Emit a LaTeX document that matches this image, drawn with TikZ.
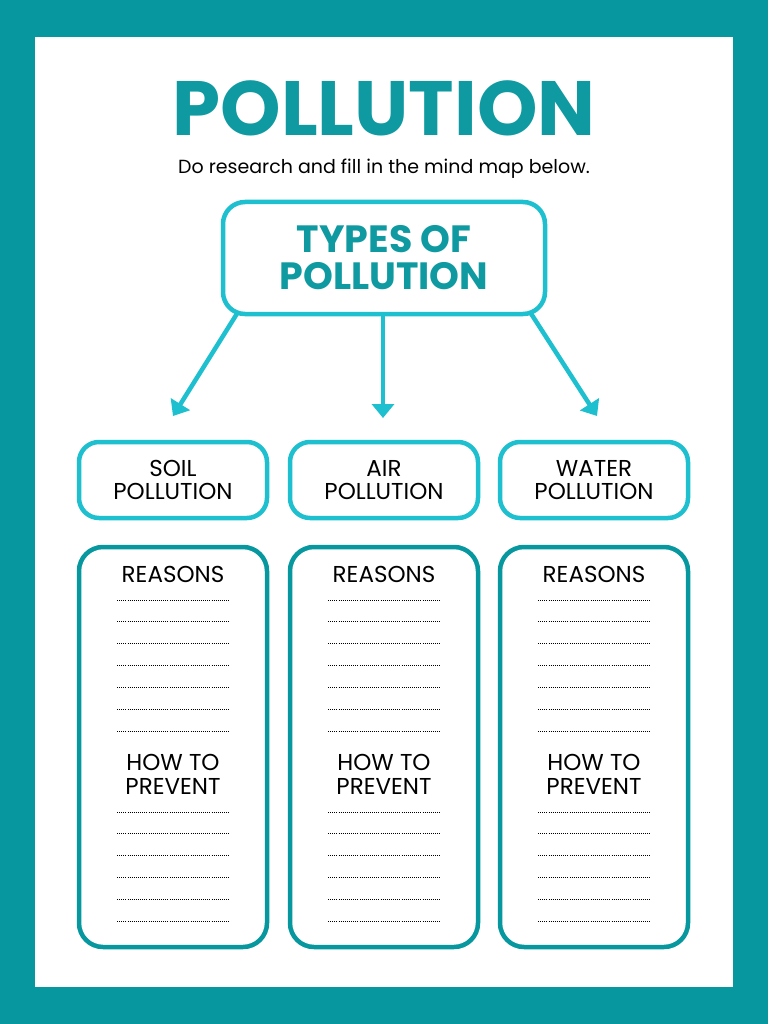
\documentclass[tikz,border=0pt]{standalone}
\usepackage{fontspec}
\setmainfont{Poppins}
\usetikzlibrary{arrows.meta}
\definecolor{teal1}{HTML}{07979F}
\definecolor{cyan1}{HTML}{1EBFCE}
\definecolor{tealtxt}{HTML}{0E9AA0}
\tikzset{
 x=1pt,y=-1pt,
 topbox/.style={draw=cyan1,line width=4.5pt,rounded corners=22pt,minimum width=322pt,minimum height=112pt,align=center,text=tealtxt,font=\fontsize{38}{37}\selectfont\bfseries},
 midbox/.style={draw=cyan1,line width=4.5pt,rounded corners=20pt,minimum width=188pt,minimum height=76pt,align=center,font=\fontsize{23}{23}\selectfont},
 lowbox/.style={draw=teal1,line width=4.5pt,rounded corners=24pt,minimum width=188pt,minimum height=400pt},
 lbl/.style={align=center,font=\fontsize{23}{24}\selectfont},
 arr/.style={draw=cyan1,line width=4.5pt,-{Triangle[length=14pt,width=22pt]}},
 dots/.style={line width=0.9pt,dash pattern=on 0.9pt off 1.2pt}
}
\begin{document}
\begin{tikzpicture}
\fill[teal1] (0,0) rectangle (768,1024);
\fill[white] (35,37) rectangle (733,987);
\useasboundingbox (0,0) rectangle (768,1024);
\node[text=tealtxt,font=\fontsize{77}{77}\selectfont\bfseries] (title) at (384,108) {POLLUTION};
\node[font=\fontsize{19}{20}\selectfont] (sub) at (384,169) {Do research and fill in the mind map below.};
\node[topbox] (top) at (384,258) {TYPES OF\\POLLUTION};
\node[midbox] (soil) at (173,480) {SOIL\\POLLUTION};
\node[midbox] (air) at (384,480) {AIR\\POLLUTION};
\node[midbox] (water) at (594,480) {WATER\\POLLUTION};
\coordinate (a1) at (238,312); \coordinate (b1) at (173,416);
\coordinate (a3) at (530,312); \coordinate (b3) at (597,416);
\coordinate (b2) at (383,418);
\draw[arr] (a1) -- (b1);
\draw[arr] (top.south -| b2) -- (b2);
\draw[arr] (a3) -- (b3);
\foreach \n/\x in {s/173,a/384,w/594}{
 \node[lowbox] (\n box) at (\x,747) {};
 \node[lbl] (\n r) at (\x,574) {REASONS};
 \node[lbl] (\n h) at (\x,774) {HOW TO\\PREVENT};
 \foreach \y in {600,621,643,665,687,709,731,812,833,855,877,899,921}
  \draw[dots] (\x-56,\y) -- (\x+56,\y);
}
\end{tikzpicture}
\end{document}
